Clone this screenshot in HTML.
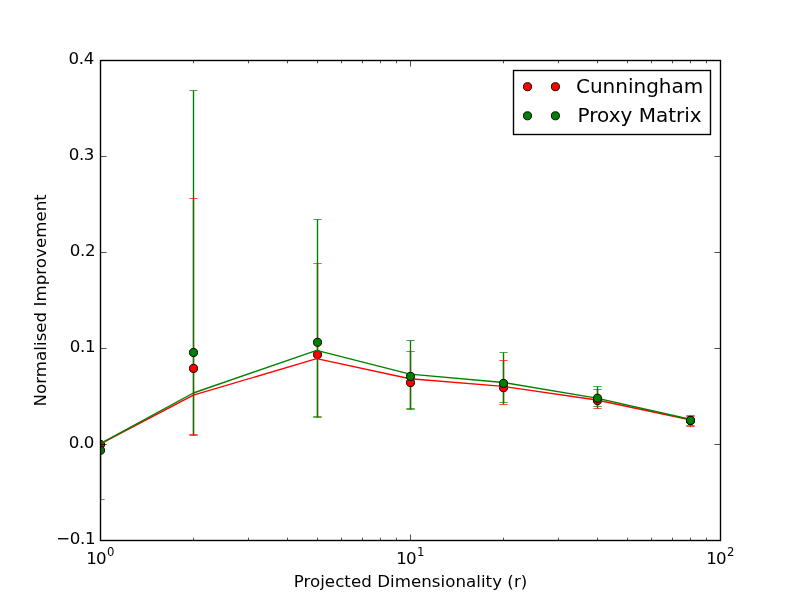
<!DOCTYPE html>
<html lang="en"><head><meta charset="utf-8"><title>Normalised Improvement vs Projected Dimensionality</title>
<style>html,body{margin:0;padding:0;background:#fff;}body{width:800px;height:600px;overflow:hidden;}svg{display:block;}text{font-family:"DejaVu Sans","Liberation Sans",sans-serif;fill:#000;}</style>
</head><body>
<svg width="800" height="600" viewBox="0 0 800 600">
<rect x="0" y="0" width="800" height="600" fill="#ffffff"/>
<defs><clipPath id="ax"><rect x="100" y="60" width="620" height="480"/></clipPath></defs>
<g clip-path="url(#ax)">
<line x1="193.50" y1="198.50" x2="193.50" y2="434.50" stroke="#ff0000" stroke-width="1.389"/>
<line x1="317.50" y1="263.50" x2="317.50" y2="417.50" stroke="#ff0000" stroke-width="1.389"/>
<line x1="410.50" y1="351.50" x2="410.50" y2="409.50" stroke="#ff0000" stroke-width="1.389"/>
<line x1="503.50" y1="360.50" x2="503.50" y2="404.50" stroke="#ff0000" stroke-width="1.389"/>
<line x1="597.50" y1="389.50" x2="597.50" y2="408.50" stroke="#ff0000" stroke-width="1.389"/>
<line x1="690.50" y1="416.50" x2="690.50" y2="426.50" stroke="#ff0000" stroke-width="1.389"/>
<line x1="100.50" y1="450.30" x2="100.50" y2="499.50" stroke="#008000" stroke-width="1.389"/>
<line x1="193.50" y1="90.50" x2="193.50" y2="435.50" stroke="#008000" stroke-width="1.389"/>
<line x1="317.50" y1="219.50" x2="317.50" y2="416.50" stroke="#008000" stroke-width="1.389"/>
<line x1="410.50" y1="340.50" x2="410.50" y2="408.50" stroke="#008000" stroke-width="1.389"/>
<line x1="503.50" y1="352.50" x2="503.50" y2="402.50" stroke="#008000" stroke-width="1.389"/>
<line x1="597.50" y1="386.50" x2="597.50" y2="406.50" stroke="#008000" stroke-width="1.389"/>
<line x1="690.50" y1="415.50" x2="690.50" y2="425.50" stroke="#008000" stroke-width="1.389"/>
<circle cx="100.50" cy="444.50" r="4.039" fill="#ff0000" stroke="#000" stroke-width="0.95"/>
<circle cx="193.50" cy="368.40" r="4.039" fill="#ff0000" stroke="#000" stroke-width="0.95"/>
<circle cx="317.50" cy="354.60" r="4.039" fill="#ff0000" stroke="#000" stroke-width="0.95"/>
<circle cx="410.50" cy="382.60" r="4.039" fill="#ff0000" stroke="#000" stroke-width="0.95"/>
<circle cx="503.50" cy="387.70" r="4.039" fill="#ff0000" stroke="#000" stroke-width="0.95"/>
<circle cx="597.50" cy="400.60" r="4.039" fill="#ff0000" stroke="#000" stroke-width="0.95"/>
<circle cx="690.50" cy="420.60" r="4.039" fill="#ff0000" stroke="#000" stroke-width="0.95"/>
<line x1="189.33" y1="434.50" x2="197.67" y2="434.50" stroke="#ff0000" stroke-width="0.694"/>
<line x1="313.33" y1="417.50" x2="321.67" y2="417.50" stroke="#ff0000" stroke-width="0.694"/>
<line x1="406.33" y1="409.50" x2="414.67" y2="409.50" stroke="#ff0000" stroke-width="0.694"/>
<line x1="499.33" y1="404.50" x2="507.67" y2="404.50" stroke="#ff0000" stroke-width="0.694"/>
<line x1="593.33" y1="408.50" x2="601.67" y2="408.50" stroke="#ff0000" stroke-width="0.694"/>
<line x1="686.33" y1="426.50" x2="694.67" y2="426.50" stroke="#ff0000" stroke-width="0.694"/>
<line x1="189.33" y1="198.50" x2="197.67" y2="198.50" stroke="#ff0000" stroke-width="0.694"/>
<line x1="313.33" y1="263.50" x2="321.67" y2="263.50" stroke="#ff0000" stroke-width="0.694"/>
<line x1="406.33" y1="351.50" x2="414.67" y2="351.50" stroke="#ff0000" stroke-width="0.694"/>
<line x1="499.33" y1="360.50" x2="507.67" y2="360.50" stroke="#ff0000" stroke-width="0.694"/>
<line x1="593.33" y1="389.50" x2="601.67" y2="389.50" stroke="#ff0000" stroke-width="0.694"/>
<line x1="686.33" y1="416.50" x2="694.67" y2="416.50" stroke="#ff0000" stroke-width="0.694"/>
<polyline points="100.00,444.10 193.32,395.20 316.68,358.60 410.00,378.80 503.32,386.40 596.64,400.00 689.96,419.80" fill="none" stroke="#ff0000" stroke-width="1.389" stroke-linejoin="round" stroke-linecap="butt"/>
<polyline points="100.00,443.80 193.32,393.00 316.68,350.40 410.00,374.10 503.32,382.50 596.64,398.10 689.96,419.30" fill="none" stroke="#008000" stroke-width="1.389" stroke-linejoin="round" stroke-linecap="butt"/>
<circle cx="100.50" cy="450.30" r="4.039" fill="#008000" stroke="#000" stroke-width="0.95"/>
<circle cx="193.50" cy="352.50" r="4.039" fill="#008000" stroke="#000" stroke-width="0.95"/>
<circle cx="317.50" cy="342.30" r="4.039" fill="#008000" stroke="#000" stroke-width="0.95"/>
<circle cx="410.50" cy="376.40" r="4.039" fill="#008000" stroke="#000" stroke-width="0.95"/>
<circle cx="503.50" cy="383.40" r="4.039" fill="#008000" stroke="#000" stroke-width="0.95"/>
<circle cx="597.50" cy="398.20" r="4.039" fill="#008000" stroke="#000" stroke-width="0.95"/>
<circle cx="690.50" cy="420.40" r="4.039" fill="#008000" stroke="#000" stroke-width="0.95"/>
<line x1="96.33" y1="499.50" x2="104.67" y2="499.50" stroke="#008000" stroke-width="0.694"/>
<line x1="189.33" y1="435.50" x2="197.67" y2="435.50" stroke="#008000" stroke-width="0.694"/>
<line x1="313.33" y1="416.50" x2="321.67" y2="416.50" stroke="#008000" stroke-width="0.694"/>
<line x1="406.33" y1="408.50" x2="414.67" y2="408.50" stroke="#008000" stroke-width="0.694"/>
<line x1="499.33" y1="402.50" x2="507.67" y2="402.50" stroke="#008000" stroke-width="0.694"/>
<line x1="593.33" y1="406.50" x2="601.67" y2="406.50" stroke="#008000" stroke-width="0.694"/>
<line x1="686.33" y1="425.50" x2="694.67" y2="425.50" stroke="#008000" stroke-width="0.694"/>
<line x1="189.33" y1="90.50" x2="197.67" y2="90.50" stroke="#008000" stroke-width="0.694"/>
<line x1="313.33" y1="219.50" x2="321.67" y2="219.50" stroke="#008000" stroke-width="0.694"/>
<line x1="406.33" y1="340.50" x2="414.67" y2="340.50" stroke="#008000" stroke-width="0.694"/>
<line x1="499.33" y1="352.50" x2="507.67" y2="352.50" stroke="#008000" stroke-width="0.694"/>
<line x1="593.33" y1="386.50" x2="601.67" y2="386.50" stroke="#008000" stroke-width="0.694"/>
<line x1="686.33" y1="415.50" x2="694.67" y2="415.50" stroke="#008000" stroke-width="0.694"/>
</g>
<rect x="100.5" y="60.5" width="620" height="480" fill="none" stroke="#000" stroke-width="1.389" stroke-linejoin="miter"/>
<g stroke="#000" stroke-width="0.694">
<line x1="100.5" y1="540.5" x2="100.5" y2="534.50"/><line x1="100.5" y1="60.5" x2="100.5" y2="66.50"/>
<line x1="193.5" y1="540.5" x2="193.5" y2="537.72"/><line x1="193.5" y1="60.5" x2="193.5" y2="63.28"/>
<line x1="248.5" y1="540.5" x2="248.5" y2="537.72"/><line x1="248.5" y1="60.5" x2="248.5" y2="63.28"/>
<line x1="287.5" y1="540.5" x2="287.5" y2="537.72"/><line x1="287.5" y1="60.5" x2="287.5" y2="63.28"/>
<line x1="317.5" y1="540.5" x2="317.5" y2="537.72"/><line x1="317.5" y1="60.5" x2="317.5" y2="63.28"/>
<line x1="341.5" y1="540.5" x2="341.5" y2="537.72"/><line x1="341.5" y1="60.5" x2="341.5" y2="63.28"/>
<line x1="362.5" y1="540.5" x2="362.5" y2="537.72"/><line x1="362.5" y1="60.5" x2="362.5" y2="63.28"/>
<line x1="380.5" y1="540.5" x2="380.5" y2="537.72"/><line x1="380.5" y1="60.5" x2="380.5" y2="63.28"/>
<line x1="396.5" y1="540.5" x2="396.5" y2="537.72"/><line x1="396.5" y1="60.5" x2="396.5" y2="63.28"/>
<line x1="410.5" y1="540.5" x2="410.5" y2="534.50"/><line x1="410.5" y1="60.5" x2="410.5" y2="66.50"/>
<line x1="503.5" y1="540.5" x2="503.5" y2="537.72"/><line x1="503.5" y1="60.5" x2="503.5" y2="63.28"/>
<line x1="558.5" y1="540.5" x2="558.5" y2="537.72"/><line x1="558.5" y1="60.5" x2="558.5" y2="63.28"/>
<line x1="597.5" y1="540.5" x2="597.5" y2="537.72"/><line x1="597.5" y1="60.5" x2="597.5" y2="63.28"/>
<line x1="627.5" y1="540.5" x2="627.5" y2="537.72"/><line x1="627.5" y1="60.5" x2="627.5" y2="63.28"/>
<line x1="651.5" y1="540.5" x2="651.5" y2="537.72"/><line x1="651.5" y1="60.5" x2="651.5" y2="63.28"/>
<line x1="672.5" y1="540.5" x2="672.5" y2="537.72"/><line x1="672.5" y1="60.5" x2="672.5" y2="63.28"/>
<line x1="690.5" y1="540.5" x2="690.5" y2="537.72"/><line x1="690.5" y1="60.5" x2="690.5" y2="63.28"/>
<line x1="706.5" y1="540.5" x2="706.5" y2="537.72"/><line x1="706.5" y1="60.5" x2="706.5" y2="63.28"/>
<line x1="720.5" y1="540.5" x2="720.5" y2="534.50"/><line x1="720.5" y1="60.5" x2="720.5" y2="66.50"/>
<line x1="100.5" y1="540.5" x2="106.50" y2="540.5"/><line x1="720.5" y1="540.5" x2="714.50" y2="540.5"/>
<line x1="100.5" y1="444.5" x2="106.50" y2="444.5"/><line x1="720.5" y1="444.5" x2="714.50" y2="444.5"/>
<line x1="100.5" y1="348.5" x2="106.50" y2="348.5"/><line x1="720.5" y1="348.5" x2="714.50" y2="348.5"/>
<line x1="100.5" y1="252.5" x2="106.50" y2="252.5"/><line x1="720.5" y1="252.5" x2="714.50" y2="252.5"/>
<line x1="100.5" y1="156.5" x2="106.50" y2="156.5"/><line x1="720.5" y1="156.5" x2="714.50" y2="156.5"/>
<line x1="100.5" y1="60.5" x2="106.50" y2="60.5"/><line x1="720.5" y1="60.5" x2="714.50" y2="60.5"/>
</g>
<g font-size="16.667px">
<text x="95.3" y="544.40" text-anchor="end" letter-spacing="-0.35">−0.1</text>
<text x="94.1" y="448.40" text-anchor="end" letter-spacing="-0.35">0.0</text>
<text x="95.2" y="352.40" text-anchor="end" letter-spacing="-0.35">0.1</text>
<text x="95.2" y="256.40" text-anchor="end" letter-spacing="-0.35">0.2</text>
<text x="94.1" y="160.40" text-anchor="end" letter-spacing="-0.35">0.3</text>
<text x="94.0" y="64.40" text-anchor="end" letter-spacing="-0.35">0.4</text>
<text x="86.30" y="564.0"><tspan letter-spacing="-1">1</tspan>0<tspan font-size="11.667px" dy="-7.9" dx="0.55">0</tspan></text>
<text x="396.30" y="564.0"><tspan letter-spacing="-1">1</tspan>0<tspan font-size="11.667px" dy="-7.9" dx="0.55">1</tspan></text>
<text x="706.30" y="564.0"><tspan letter-spacing="-1">1</tspan>0<tspan font-size="11.667px" dy="-7.9" dx="0.55">2</tspan></text>
<text x="410.5" y="587" text-anchor="middle" letter-spacing="0.037">Projected Dimensionality (r)</text>
<text transform="translate(46,300.3) rotate(-90)" text-anchor="middle" letter-spacing="0.027">Normalised Improvement</text>
</g>
<rect x="513.5" y="70.5" width="197" height="64" fill="#fff" stroke="#000" stroke-width="1.389"/>
<circle cx="527.5" cy="86.7" r="4.039" fill="#ff0000" stroke="#000" stroke-width="0.95"/>
<circle cx="555.4" cy="86.7" r="4.039" fill="#ff0000" stroke="#000" stroke-width="0.95"/>
<circle cx="527.5" cy="115.8" r="4.039" fill="#008000" stroke="#000" stroke-width="0.95"/>
<circle cx="555.4" cy="115.8" r="4.039" fill="#008000" stroke="#000" stroke-width="0.95"/>
<g font-size="20px"><text x="575.95" y="92.7">Cunningham</text><text x="577.6" y="121.8">Proxy Matrix</text></g>
</svg></body></html>
